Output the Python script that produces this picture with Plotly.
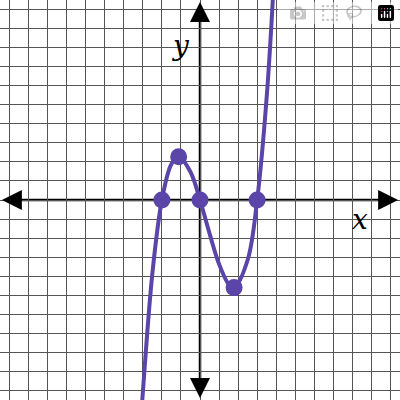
import plotly.graph_objects as go

# curve
curve_x = [-3.15, -3.0, -2.5, -2.0, -1.5, -1.12, -0.5, 0.0, 0.5, 1.0, 1.5, 1.79, 2.5, 3.0, 3.5, 3.85]
curve_y = [-12.3, -10.1, -3.85, 0.0, 1.89, 2.27, 1.47, 0.0, -1.75, -3.36, -4.41, -4.6, -3.15, 0.0, 5.39, 11.0]

# marked points
pts_x = [-2, -1.12, 0, 1.79, 3]
pts_y = [0, 2.27, 0, -4.6, 0]

purple = "#5b45a8"
fig = go.Figure()
fig.add_trace(go.Scatter(x=curve_x, y=curve_y, mode="lines", line=dict(color=purple, width=4, shape="spline"),
                         hoverinfo="skip"))
fig.add_trace(go.Scatter(x=pts_x, y=pts_y, mode="markers", marker=dict(color=purple, size=17)))

# axes with arrows
for ax, ay, x, y in [(-9.5, 0, -10.4, 0), (9.5, 0, 10.4, 0), (0, -9.5, 0, -10.4), (0, 9.5, 0, 10.4)]:
    fig.add_annotation(x=x, y=y, ax=ax, ay=ay, xref="x", yref="y", axref="x", ayref="y",
                       showarrow=True, arrowhead=2, arrowsize=1.6, arrowwidth=2.5, arrowcolor="black", text="")
fig.add_shape(type="line", x0=-9.6, x1=9.6, y0=0, y1=0, line=dict(color="black", width=2.5), layer="below")
fig.add_shape(type="line", x0=0, x1=0, y0=-9.6, y1=9.6, line=dict(color="black", width=2.5), layer="below")

lab = dict(family="DejaVu Serif", size=28, color="black")
fig.add_annotation(x=8.4, y=-1.0, text="<i>x</i>", showarrow=False, font=lab)
fig.add_annotation(x=-1.0, y=8.1, text="<i>y</i>", showarrow=False, font=lab)

grid = dict(range=[-10.5, 10.5], dtick=1, tick0=0, showgrid=True, gridcolor="#555555", gridwidth=1,
            zeroline=False, showticklabels=False, ticks="", fixedrange=True)
fig.update_layout(width=400, height=400, margin=dict(l=0, r=0, t=0, b=0), showlegend=False,
                  plot_bgcolor="white", paper_bgcolor="white", xaxis=grid, yaxis=grid)
fig.write_html("out.html", post_script="document.body.style.margin='0';")
